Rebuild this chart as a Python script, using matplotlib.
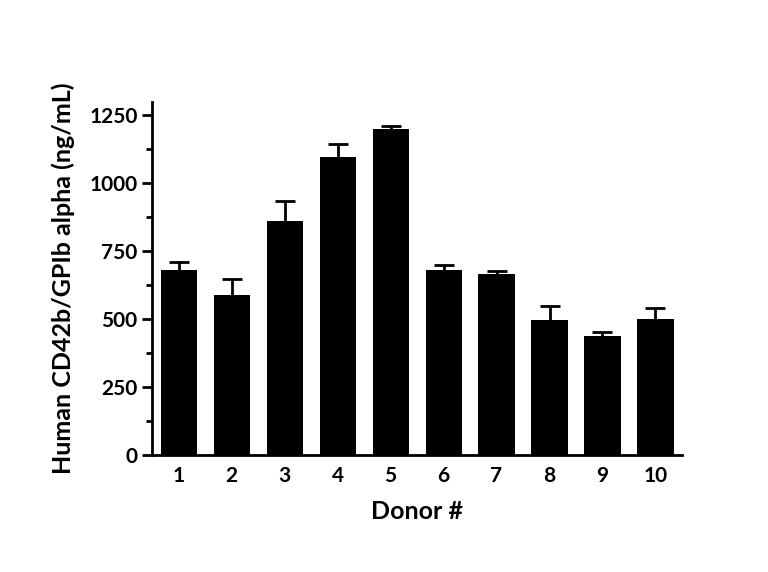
import matplotlib
matplotlib.use("Agg")
import matplotlib.pyplot as plt
from matplotlib.ticker import MultipleLocator

donors = [str(i) for i in range(1, 11)]
means = [680, 588, 862, 1096, 1199, 680, 665, 496, 437, 500]
errors = [30, 59, 72, 47, 11, 18, 11, 52, 15, 40]

plt.rcParams['font.family'] = ['Lato', 'DejaVu Sans']
plt.rcParams['font.weight'] = 'bold'
fig = plt.figure(figsize=(7.68, 5.72), dpi=100)
ax = fig.add_axes([0.198, 0.2045, 0.69, 0.618])
x = list(range(1, 11))
ax.bar(x, means, width=0.68, color='black', yerr=errors,
       error_kw=dict(ecolor='black', elinewidth=2, capsize=7, capthick=2))
ax.set_xlim(0.5, 10.5)
ax.set_ylim(0, 1300)
ax.set_yticks([0, 250, 500, 750, 1000, 1250])
ax.yaxis.set_minor_locator(MultipleLocator(125))
ax.set_xticks(x)
ax.set_xticklabels(donors)
for s in ['top', 'right']:
    ax.spines[s].set_visible(False)
for s in ['left', 'bottom']:
    ax.spines[s].set_linewidth(2)
ax.tick_params(axis='both', which='major', width=2, length=7, labelsize=15)
ax.tick_params(axis='y', which='minor', width=2, length=4)
ax.tick_params(axis='x', length=0, pad=8)
ax.set_xlabel('Donor #', fontsize=18, fontweight='bold', labelpad=10)
ax.set_ylabel('Human CD42b/GPIb alpha (ng/mL)', fontsize=18, fontweight='bold', labelpad=10)
fig.savefig('out.png', dpi=100)
